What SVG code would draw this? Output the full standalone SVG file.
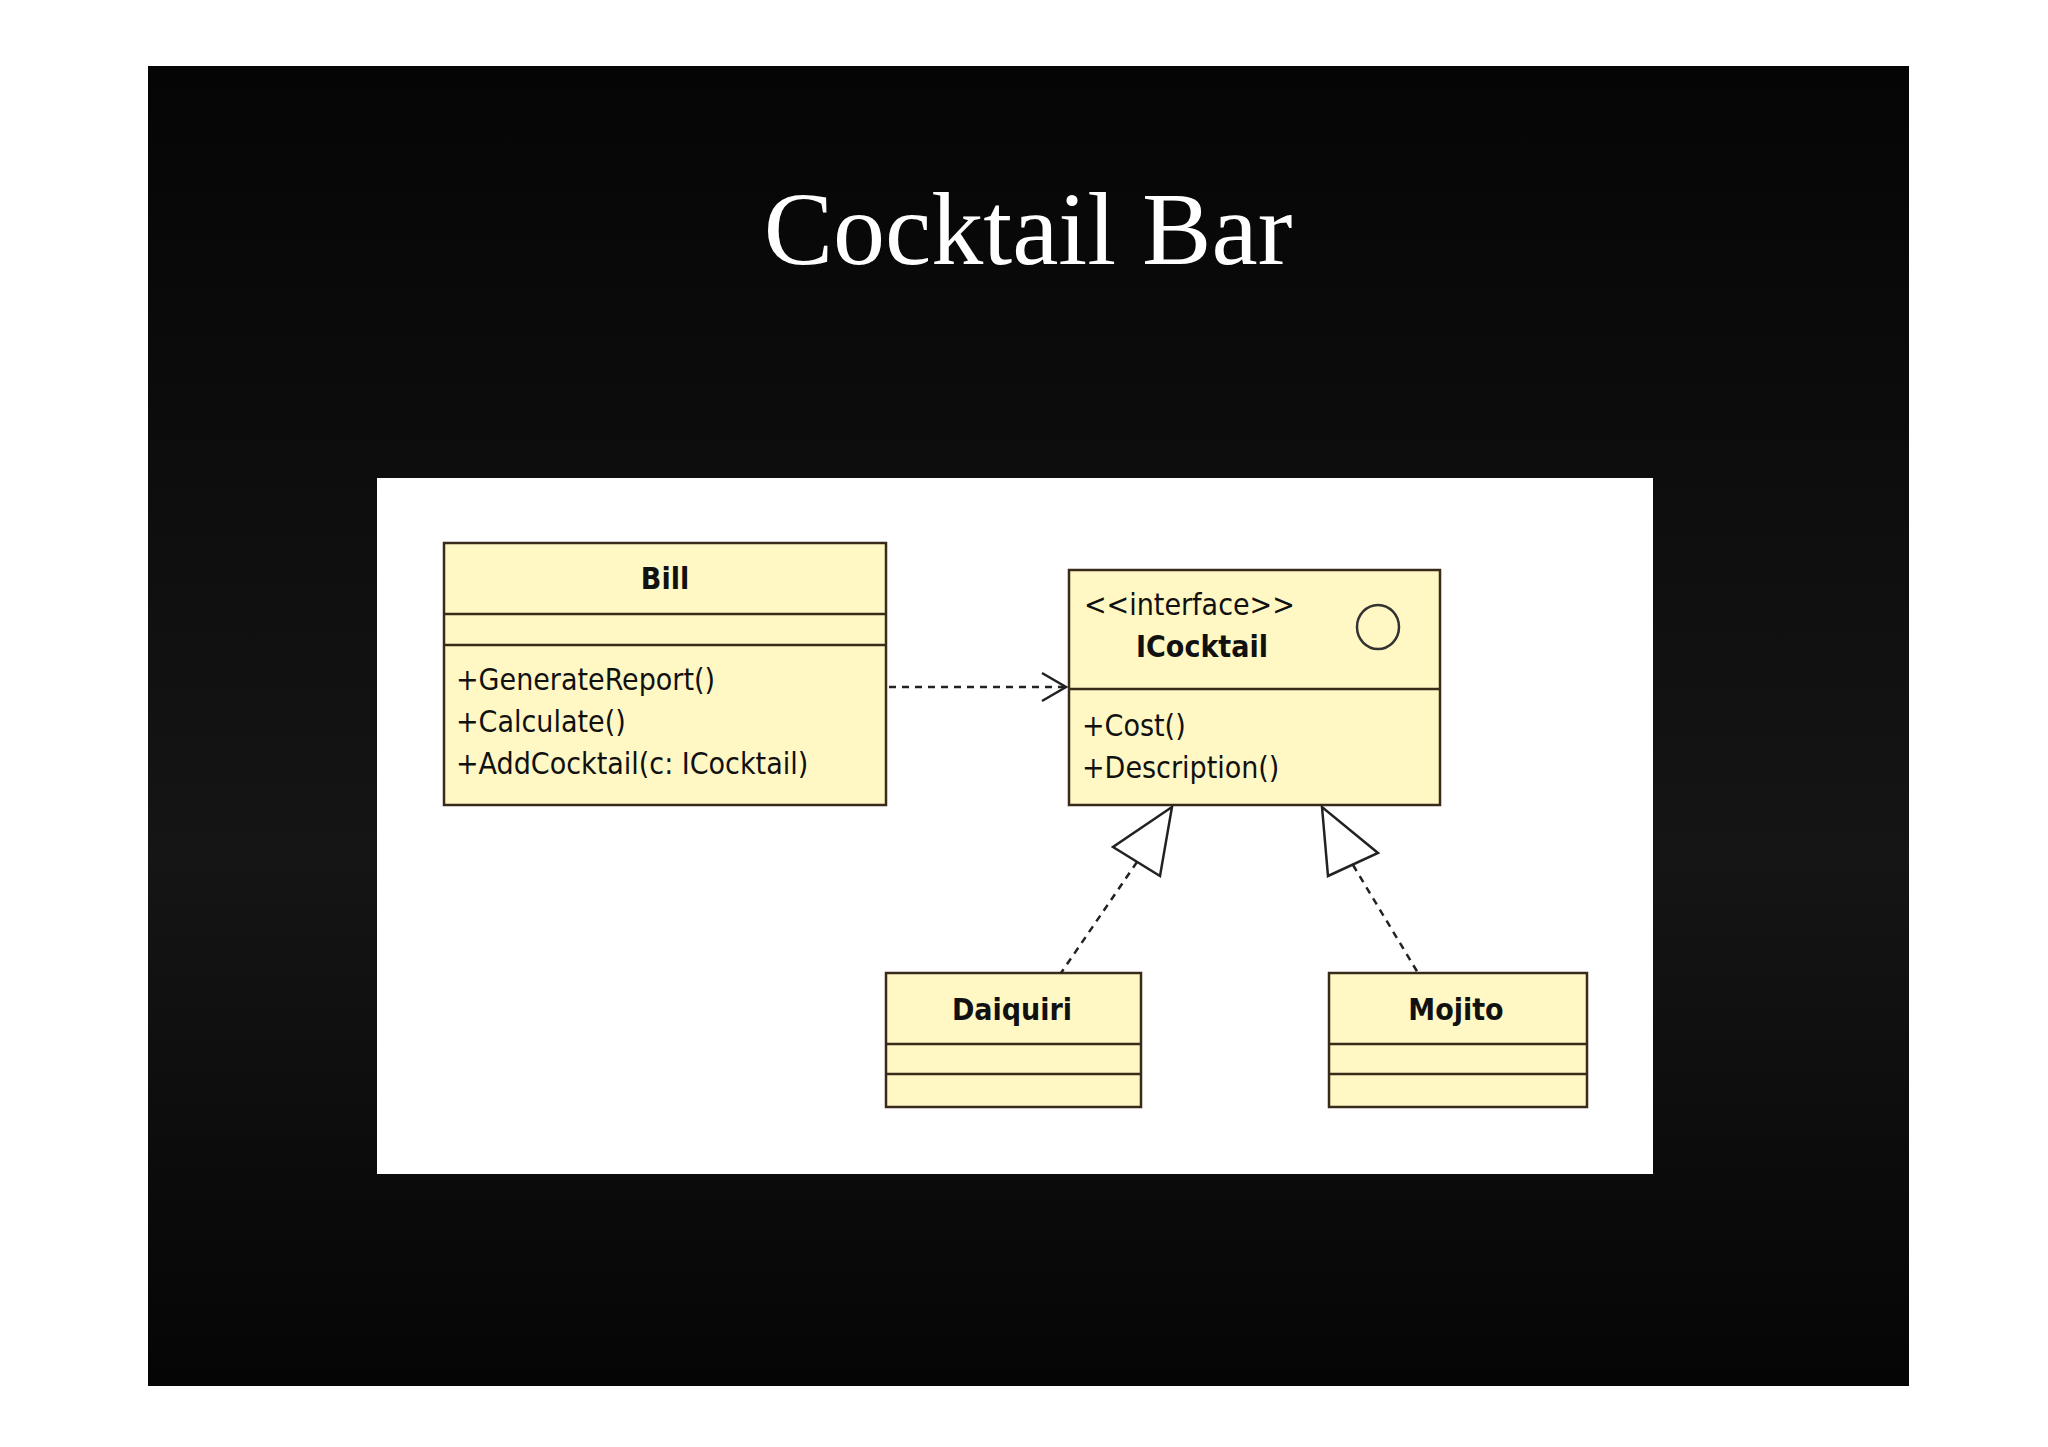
<svg xmlns="http://www.w3.org/2000/svg" width="2048" height="1447" viewBox="0 0 2048 1447">
<style>
.box{fill:#FFF8C4;stroke:#3a2a1a;stroke-width:2.5}
.ln{stroke:#3a2a1a;stroke-width:2.5}
.t{font-family:"DejaVu Sans Condensed","DejaVu Sans",sans-serif;font-size:30px;fill:#111}
.b{font-weight:bold;text-anchor:middle}
.dash{fill:none;stroke:#222;stroke-width:2.5;stroke-dasharray:7 6}
</style>
<defs>
<linearGradient id="bg" x1="0" y1="0" x2="0" y2="1"><stop offset="0" stop-color="#050505"/><stop offset="0.6" stop-color="#151515"/><stop offset="1" stop-color="#050505"/></linearGradient>
</defs>
<rect width="2048" height="1447" fill="#fff"/>
<rect x="148" y="66" width="1761" height="1320" fill="url(#bg)"/>
<text x="1028" y="264" font-family="Liberation Serif,serif" font-size="104" fill="#fff" text-anchor="middle">Cocktail Bar</text>
<rect x="377" y="478" width="1276" height="696" fill="#fff"/>
<g id="Bill">
<rect class="box" x="444" y="543" width="442" height="262"/>
<line class="ln" x1="444" y1="614" x2="886" y2="614"/>
<line class="ln" x1="444" y1="645" x2="886" y2="645"/>
<text class="t b" x="665" y="589">Bill</text>
<text class="t" x="456" y="690">+GenerateReport()</text>
<text class="t" x="456" y="732">+Calculate()</text>
<text class="t" x="456" y="774">+AddCocktail(c: ICocktail)</text>
</g>
<g id="ICocktail">
<rect class="box" x="1069" y="570" width="371" height="235"/>
<line class="ln" x1="1069" y1="689" x2="1440" y2="689"/>
<text class="t" x="1084" y="615">&lt;&lt;interface&gt;&gt;</text>
<text class="t b" x="1202" y="657">ICocktail</text>
<ellipse cx="1378" cy="627" rx="21" ry="22" fill="none" stroke="#333" stroke-width="2.5"/>
<text class="t" x="1082" y="736">+Cost()</text>
<text class="t" x="1082" y="778">+Description()</text>
</g>
<g id="Daiquiri">
<rect class="box" x="886" y="973" width="255" height="134"/>
<line class="ln" x1="886" y1="1044" x2="1141" y2="1044"/>
<line class="ln" x1="886" y1="1074" x2="1141" y2="1074"/>
<text class="t b" x="1012" y="1020">Daiquiri</text>
</g>
<g id="Mojito">
<rect class="box" x="1329" y="973" width="258" height="134"/>
<line class="ln" x1="1329" y1="1044" x2="1587" y2="1044"/>
<line class="ln" x1="1329" y1="1074" x2="1587" y2="1074"/>
<text class="t b" x="1456" y="1020">Mojito</text>
</g>
<g id="connectors">
<line class="dash" x1="889" y1="687" x2="1064" y2="687"/>
<polyline points="1042,673 1066,687 1042,701" fill="none" stroke="#222" stroke-width="2.5"/>
<polygon points="1172,807 1113,847 1160,876" fill="#fff" stroke="#222" stroke-width="2.5"/>
<line class="dash" x1="1137" y1="862" x2="1061" y2="973"/>
<polygon points="1322,807 1328,876 1378,853" fill="#fff" stroke="#222" stroke-width="2.5"/>
<line class="dash" x1="1353" y1="865" x2="1418" y2="973"/>
</g>
</svg>
